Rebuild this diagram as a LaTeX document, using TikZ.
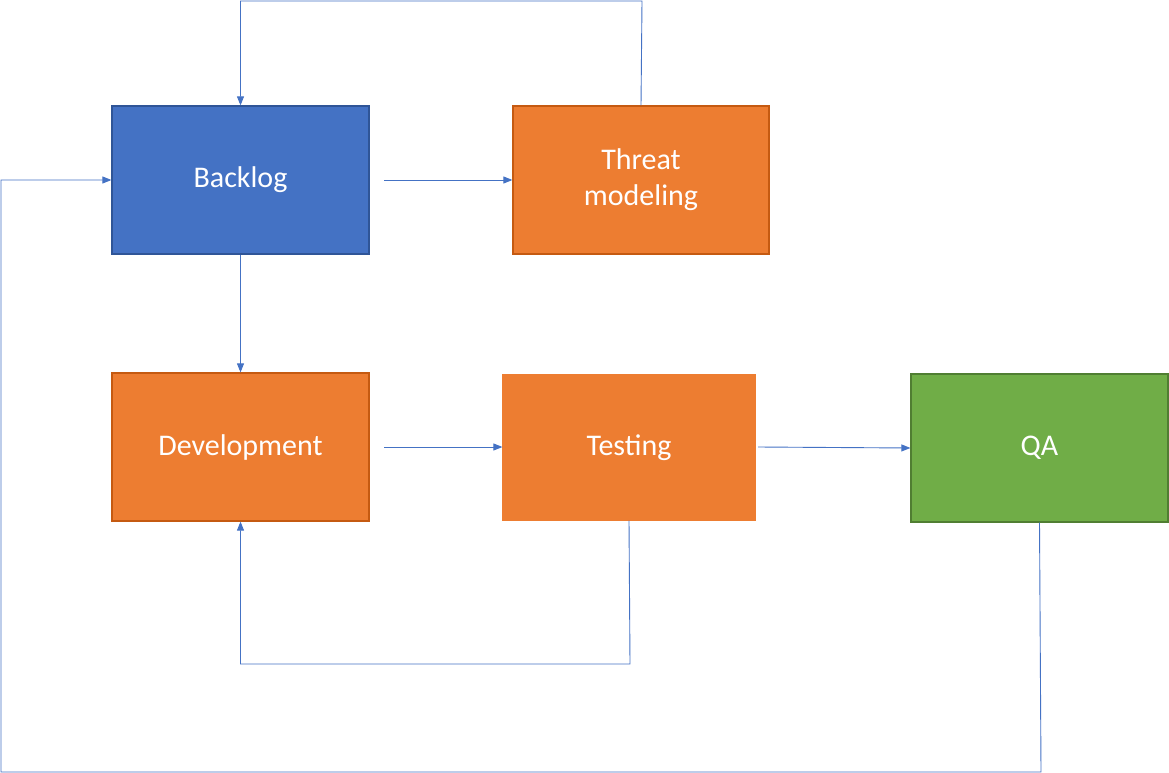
\documentclass[tikz,border=0pt]{standalone}
\usepackage{fontspec}
\setmainfont{Carlito}
\usetikzlibrary{arrows.meta}
\definecolor{bl}{HTML}{4472C4}
\definecolor{bld}{HTML}{2F5597}
\definecolor{org}{HTML}{ED7D31}
\definecolor{orgd}{HTML}{C55A11}
\definecolor{grn}{HTML}{70AD47}
\definecolor{grnd}{HTML}{507E32}
\begin{document}
\begin{tikzpicture}[x=1pt,y=-1pt,
  box/.style={draw, line width=1.2pt, text=white, align=center, font=\fontsize{30}{36}\selectfont, inner sep=0pt},
  con/.style={draw=bl, line width=0.9pt, -{Triangle[length=9pt,width=7pt]}}]
\useasboundingbox (0,0) rectangle (1169,773);
\node[box, fill=bl, draw=bld, minimum width=257pt, minimum height=148pt] (bk) at (240.5,180) {Backlog};
\node[box, fill=org, draw=orgd, minimum width=256pt, minimum height=148pt] (tm) at (641,180) {Threat\\modeling};
\node[box, fill=org, draw=orgd, minimum width=257pt, minimum height=148pt] (dev) at (240.5,447) {Development};
\node[box, fill=org, draw=org, minimum width=252pt, minimum height=145pt] (ts) at (629,447.5) {Testing};
\node[box, fill=grn, draw=grnd, minimum width=257pt, minimum height=148pt] (qa) at (1039.5,448) {QA};
\coordinate (b1) at (384,180);
\coordinate (d1) at (384,447);
\coordinate (t1) at (758,447);
\draw[con] (tm.north) -- (642,1) -| (bk.north);
\draw[con] (b1) -- (tm.west |- b1);
\draw[con] (bk.south) -- (dev.north);
\draw[con] (d1) -- (ts.west |- d1);
\draw[con] (t1) -- (qa.west);
\draw[con] (ts.south) -- (630,664) -| (dev.south);
\draw[con] (qa.south) -- (1041,772) -- (1,772) -- (1,180) -- (bk.west);
\end{tikzpicture}
\end{document}
